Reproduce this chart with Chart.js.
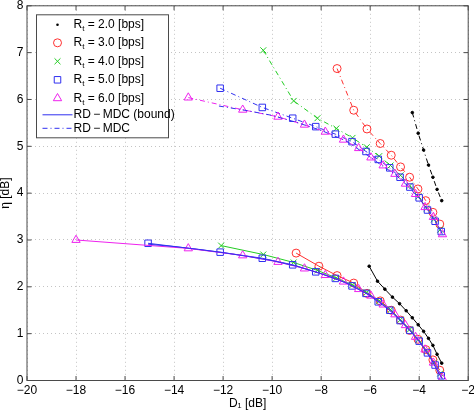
<!DOCTYPE html>
<html>
<head>
<meta charset="utf-8">
<script src="https://cdn.jsdelivr.net/npm/chart.js"></script>
<style>
  html, body { margin: 0; padding: 0; background: #fff; }
</style>
</head>
<body>
<canvas id="etaChart" width="474" height="414"></canvas>
<script>
// D1 [dB] of every marker, eta [dB] on the lower and upper branch (null = off the plot)
const rt2D1 = [-6.04, -5.70, -5.40, -5.09, -4.80, -4.53, -4.28, -4.04, -3.82, -3.62, -3.44, -3.27, -3.08];
const rt2Low = [2.44, 2.12, 1.95, 1.78, 1.64, 1.49, 1.34, 1.19, 1.05, 0.90, 0.75, 0.56, 0.37];
const rt2High = [null, null, null, null, null, null, 5.72, 5.28, 4.92, 4.60, 4.34, 4.08, 3.84];

const rt3D1 = [-9.02, -8.09, -7.35, -6.67, -6.13, -5.59, -5.14, -4.76, -4.39, -4.05, -3.73, -3.44, -3.16];
const rt3Low = [2.72, 2.44, 2.24, 2.08, 1.86, 1.70, 1.50, 1.29, 1.07, 0.88, 0.66, 0.44, 0.22];
const rt3High = [null, null, 6.66, 5.77, 5.37, 5.06, 4.81, 4.56, 4.34, 4.09, 3.84, 3.59, 3.34];

const rt4D1 = [-12.08, -10.36, -9.12, -8.15, -7.38, -6.72, -6.14, -5.63, -5.17, -4.76, -4.38, -4.03, -3.70, -3.40, -3.14];
const rt4Low = [2.88, 2.69, 2.52, 2.35, 2.19, 2.04, 1.88, 1.70, 1.51, 1.30, 1.09, 0.87, 0.63, 0.38, 0.15];
const rt4High = [null, 7.05, 5.97, 5.60, 5.38, 5.18, 4.98, 4.79, 4.59, 4.38, 4.16, 3.93, 3.68, 3.44, 3.22];

const rt5D1 = [-15.06, -12.12, -10.40, -9.16, -8.22, -7.42, -6.74, -6.17, -5.67, -5.20, -4.78, -4.38, -4.00, -3.66, -3.35, -3.10];
const rt5Low = [2.93, 2.74, 2.61, 2.47, 2.32, 2.18, 2.02, 1.86, 1.68, 1.50, 1.28, 1.07, 0.84, 0.59, 0.33, 0.10];
const rt5High = [null, 6.24, 5.83, 5.60, 5.42, 5.26, 5.10, 4.89, 4.72, 4.54, 4.34, 4.13, 3.90, 3.64, 3.40, 3.18];

const rt6D1 = [-18.00, -13.42, -11.20, -9.76, -8.68, -7.83, -7.09, -6.47, -5.97, -5.47, -4.99, -4.56, -4.15, -3.76, -3.42, -3.05];
const rt6Low = [3.00, 2.82, 2.67, 2.53, 2.39, 2.25, 2.11, 1.95, 1.81, 1.62, 1.41, 1.18, 0.93, 0.66, 0.38, 0.05];
const rt6High = [null, 6.04, 5.78, 5.63, 5.46, 5.31, 5.14, 4.96, 4.76, 4.59, 4.41, 4.20, 3.98, 3.70, 3.49, 3.12];

// RD-MDC curves
const boundD1 = [-15.06, -14, -13, -12, -11, -10, -9, -8, -7, -6, -5.5, -5, -4.5, -4, -3.5, -3.2, -3.05];
const boundEta = [2.91, 2.86, 2.80, 2.73, 2.65, 2.56, 2.44, 2.28, 2.09, 1.82, 1.63, 1.41, 1.14, 0.84, 0.45, 0.15, 0.03];
const rdD1 = [-12.17, -11, -10, -9, -8, -7, -6, -5.5, -5, -4.5, -4, -3.5, -3.2, -3.05];
const rdEta = [5.86, 5.76, 5.66, 5.51, 5.34, 5.12, 4.77, 4.58, 4.41, 4.17, 3.89, 3.54, 3.28, 3.12];

const rateLabels = ["2.0", "3.0", "4.0", "5.0", "6.0"];
const xTicks = [-20, -18, -16, -14, -12, -10, -8, -6, -4, -2];
const yTicks = [0, 1, 2, 3, 4, 5, 6, 7, 8];

const FONT = '"Liberation Sans", Arial, sans-serif';
const dashDot = [5, 3, 1, 3];

const rates = [
    { d1: rt2D1, low: rt2Low, high: rt2High, color: "#000000", style: "circle", r: 1.3, fill: true },
    { d1: rt3D1, low: rt3Low, high: rt3High, color: "#ff3030", style: "circle", r: 4, fill: false },
    { d1: rt4D1, low: rt4Low, high: rt4High, color: "#22cc22", style: "crossRot", r: 4.2, fill: false },
    { d1: rt5D1, low: rt5Low, high: rt5High, color: "#3030f0", style: "rect", r: 4.6, fill: false },
    { d1: rt6D1, low: rt6Low, high: rt6High, color: "#ee22ee", style: "triangle", r: 4.8, fill: false }
];

function pts(xs, ys) {
    return xs.map((x, i) => ({ x: x, y: ys[i] }));
}

function rateSet(s, ys, dash) {
    return {
        data: pts(s.d1, ys),
        showLine: true,
        borderColor: s.color,
        borderWidth: 1,
        borderDash: dash,
        pointStyle: s.style,
        pointRadius: s.r,
        pointBorderColor: s.color,
        pointBackgroundColor: s.fill ? s.color : "rgba(0,0,0,0)",
        pointBorderWidth: 1
    };
}

// first dataset is painted last (on top)
const datasets = [
    { data: pts(rdD1, rdEta), showLine: true, borderColor: "#3030f0", borderWidth: 1, borderDash: dashDot, pointRadius: 0 },
    { data: pts(boundD1, boundEta), showLine: true, borderColor: "#3030f0", borderWidth: 1, pointRadius: 0 }
];
for (let i = rates.length - 1; i >= 0; i--) {
    datasets.push(rateSet(rates[i], rates[i].high, dashDot));
    datasets.push(rateSet(rates[i], rates[i].low, []));
}

function minus(v) {
    return v < 0 ? "\u2212" + Math.abs(v) : String(v);
}

function drawMarker(ctx, style, x, y, r, color, fill) {
    ctx.save();
    ctx.strokeStyle = color;
    ctx.fillStyle = color;
    ctx.lineWidth = 1;
    ctx.setLineDash([]);
    ctx.beginPath();
    if (style === "circle") {
        ctx.arc(x, y, r, 0, Math.PI * 2);
    } else if (style === "rect") {
        const h = r * Math.SQRT1_2;
        ctx.rect(x - h, y - h, 2 * h, 2 * h);
    } else if (style === "crossRot") {
        const h = r * Math.SQRT1_2;
        ctx.moveTo(x - h, y - h); ctx.lineTo(x + h, y + h);
        ctx.moveTo(x - h, y + h); ctx.lineTo(x + h, y - h);
    } else if (style === "triangle") {
        for (let k = 0; k < 3; k++) {
            const a = k * 2 * Math.PI / 3;
            const px = x + Math.sin(a) * r, py = y - Math.cos(a) * r;
            if (k === 0) ctx.moveTo(px, py); else ctx.lineTo(px, py);
        }
        ctx.closePath();
    }
    if (fill) ctx.fill(); else ctx.stroke();
    ctx.restore();
}

const framePlugin = {
    id: "frame",
    afterDraw(chart) {
        const ctx = chart.ctx;
        const a = chart.chartArea;
        const xs = chart.scales.x, ys = chart.scales.y;
        ctx.save();
        ctx.strokeStyle = "#4a4a4a";
        ctx.lineWidth = 1;
        ctx.strokeRect(a.left, a.top, a.right - a.left, a.bottom - a.top);
        // inward tick marks on all four sides
        ctx.beginPath();
        xTicks.forEach(v => {
            const px = xs.getPixelForValue(v);
            ctx.moveTo(px, a.bottom); ctx.lineTo(px, a.bottom - 4.5);
            ctx.moveTo(px, a.top); ctx.lineTo(px, a.top + 4.5);
        });
        yTicks.forEach(v => {
            const py = ys.getPixelForValue(v);
            ctx.moveTo(a.left, py); ctx.lineTo(a.left + 4.5, py);
            ctx.moveTo(a.right, py); ctx.lineTo(a.right - 4.5, py);
        });
        ctx.stroke();

        // legend box
        const lx = a.left + 9.5, ly = a.top + 9, lw = 132, lh = 123;
        ctx.fillStyle = "#fff";
        ctx.fillRect(lx, ly, lw, lh);
        ctx.strokeStyle = "#4a4a4a";
        ctx.strokeRect(lx, ly, lw, lh);
        const rowY = [10, 28, 46.5, 65, 83.5, 100, 113.5];
        const tx = lx + 37;
        ctx.textBaseline = "middle";
        ctx.fillStyle = "#000";
        rates.forEach((s, i) => {
            const y = ly + rowY[i];
            drawMarker(ctx, s.style, lx + 21, y, s.r, s.color, s.fill);
            ctx.fillStyle = "#000";
            ctx.font = "12px " + FONT;
            ctx.fillText("R", tx, y);
            const wR = ctx.measureText("R").width;
            ctx.font = "8px " + FONT;
            ctx.fillText("t", tx + wR, y + 4);
            const wt = ctx.measureText("t").width;
            ctx.font = "12px " + FONT;
            ctx.fillText(" = " + rateLabels[i] + " [bps]", tx + wR + wt, y);
        });
        const lineRows = [
            { text: "RD\u2009\u2212\u2009MDC (bound)", dash: [] },
            { text: "RD\u2009\u2212\u2009MDC", dash: dashDot }
        ];
        lineRows.forEach((row, j) => {
            const y = ly + rowY[5 + j];
            ctx.save();
            ctx.strokeStyle = "#3030f0";
            ctx.setLineDash(row.dash);
            ctx.beginPath();
            ctx.moveTo(lx + 6, y); ctx.lineTo(lx + 36, y);
            ctx.stroke();
            ctx.restore();
            ctx.fillStyle = "#000";
            ctx.font = "12px " + FONT;
            ctx.fillText(row.text, tx, y);
        });
        ctx.restore();
    }
};

new Chart(document.getElementById("etaChart").getContext("2d"), {
    type: "scatter",
    data: { datasets: datasets },
    plugins: [framePlugin],
    options: {
        responsive: false,
        animation: false,
        events: [],
        layout: { padding: { top: 4.5, right: 0.5, bottom: 0, left: 0 } },
        plugins: { legend: { display: false }, tooltip: { enabled: false } },
        scales: {
            x: {
                type: "linear",
                min: -20,
                max: -2,
                afterBuildTicks: s => { s.ticks = xTicks.map(v => ({ value: v })); },
                afterFit: s => { s.height = 33.5; s.paddingLeft = 0; s.paddingRight = 0; },
                ticks: {
                    autoSkip: false,
                    maxRotation: 0,
                    padding: 3,
                    color: "#000",
                    font: { family: FONT, size: 12 },
                    callback: v => minus(v)
                },
                grid: { color: "#c4c4c4", lineWidth: 1, drawTicks: false },
                border: { display: false, dash: [1, 3] },
                title: {
                    display: true,
                    text: "D\u2081 [dB]",
                    color: "#000",
                    font: { family: FONT, size: 12 },
                    padding: { top: 0, bottom: 3 }
                }
            },
            y: {
                min: 0,
                max: 8,
                afterBuildTicks: s => { s.ticks = yTicks.map(v => ({ value: v })); },
                afterFit: s => { s.width = 27; s.paddingTop = 0; s.paddingBottom = 0; },
                ticks: {
                    padding: 3.5,
                    color: "#000",
                    font: { family: FONT, size: 12 },
                    callback: v => String(v)
                },
                grid: { color: "#c4c4c4", lineWidth: 1, drawTicks: false },
                border: { display: false, dash: [1, 3] },
                title: {
                    display: true,
                    text: "\u03b7 [dB]",
                    color: "#000",
                    font: { family: FONT, size: 12, lineHeight: 1 },
                    padding: 0
                }
            }
        }
    }
});
</script>
</body>
</html>
